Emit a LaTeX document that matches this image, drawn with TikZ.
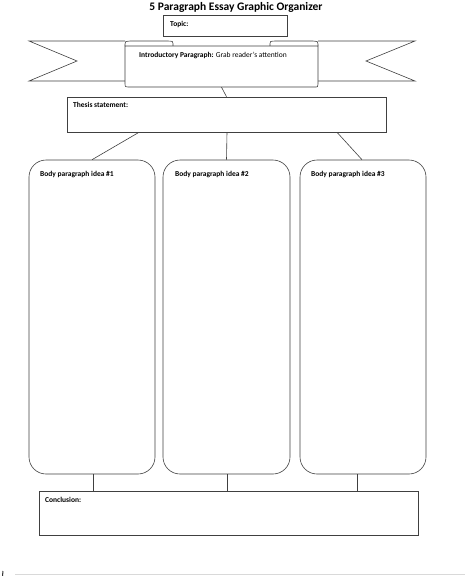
\documentclass[tikz,border=0pt]{standalone}
\usepackage{fontspec}
\setmainfont{Carlito}
\usetikzlibrary{calc}
\begin{document}
\begin{tikzpicture}[x=1pt,y=-1pt,
  ln/.style={draw=black!75,line width=0.6pt},
  box/.style={ln,rectangle,inner sep=0pt,fill=white},
  rbox/.style={box,rounded corners=17pt},
  lbl/.style={anchor=west,inner sep=0pt,font=\fontsize{7.5}{9}\selectfont\bfseries},
  conn/.style={ln}]
\useasboundingbox (0,0) rectangle (472,576);
% title
\node[inner sep=0pt,font=\fontsize{11.5}{13}\selectfont\bfseries] (title) at (236,7) {5 Paragraph Essay Graphic Organizer};
% topic
\node[box,minimum width=124pt,minimum height=21pt] (topic) at (225,25.5) {};
\node[lbl] (topiclbl) at (170,24) {Topic:};
% banner ribbons
\draw[ln,fill=white] (125,41) -- (29,41) -- (77,61) -- (29,81) -- (125,81);
\draw[ln,fill=white] (318,41) -- (415,41) -- (366,61) -- (415,81) -- (318,81);
% scroll curls
\draw[ln,fill=white] (125,46) -- (125,44) .. controls (125,41.5) .. (130,41) -- (168,41) .. controls (173,41.3) .. (173,43.5) -- (173,46);
\draw[ln,fill=white] (270,46) -- (270,43.5) .. controls (270,41.3) .. (275,41) -- (313,41) .. controls (318,41.5) .. (318,44) -- (318,46);
% scroll body
\draw[ln,fill=white] (125,46) -- (318,46) -- (318,84) .. controls (318,87) .. (314,87) -- (130,87) .. controls (125,87) .. (125,83) -- cycle;
\node[inner sep=0pt,minimum width=193pt,minimum height=41pt] (intro) at (221.5,66.5) {};
\node[anchor=west,inner sep=0pt,font=\fontsize{7.5}{9}\selectfont] (introlbl) at (139,55) {\textbf{Introductory Paragraph:} Grab reader’s attention};
% thesis
\node[box,minimum width=319pt,minimum height=35pt] (thesis) at (226.5,114.5) {};
\node[lbl] (thesislbl) at (73,105) {Thesis statement:};
% body boxes
\node[rbox,minimum width=126pt,minimum height=314pt] (b1) at (92,317) {};
\node[rbox,minimum width=127pt,minimum height=314pt] (b2) at (226.5,317) {};
\node[rbox,minimum width=126pt,minimum height=314pt] (b3) at (363,317) {};
\node[lbl] (b1lbl) at (40,175) {Body paragraph idea \#1};
\node[lbl] (b2lbl) at (175,175) {Body paragraph idea \#2};
\node[lbl] (b3lbl) at (311,175) {Body paragraph idea \#3};
% conclusion
\node[box,minimum width=379pt,minimum height=44pt] (concl) at (228.5,513) {};
\node[lbl] (concllbl) at (45,500) {Conclusion:};
% connectors
\draw[conn] (intro.south) -- (thesis.north);
\draw[conn] ([xshift=-87.5pt]thesis.south) -- (b1.north);
\draw[conn] ([xshift=0.5pt]thesis.south) -- (b2.north);
\draw[conn] ([xshift=110.5pt]thesis.south) -- ([xshift=-1pt]b3.north);
\draw[conn] ([xshift=1pt]b1.south) -- ([xshift=-135.5pt]concl.north);
\draw[conn] ([xshift=0.5pt]b2.south) -- ([xshift=-1.5pt]concl.north);
\draw[conn] ([xshift=-6pt]b3.south) -- ([xshift=128.5pt]concl.north);
% scan edge
\coordinate (sl) at (15,574);
\coordinate (sr) at (465,574);
\draw[black!15,line width=0.8pt] (sl) -- (sr);
\coordinate (m1) at (3,571);
\coordinate (m2) at (2.5,576);
\draw[black!80,line width=1pt] (m1) -- (m2);
\end{tikzpicture}
\end{document}
